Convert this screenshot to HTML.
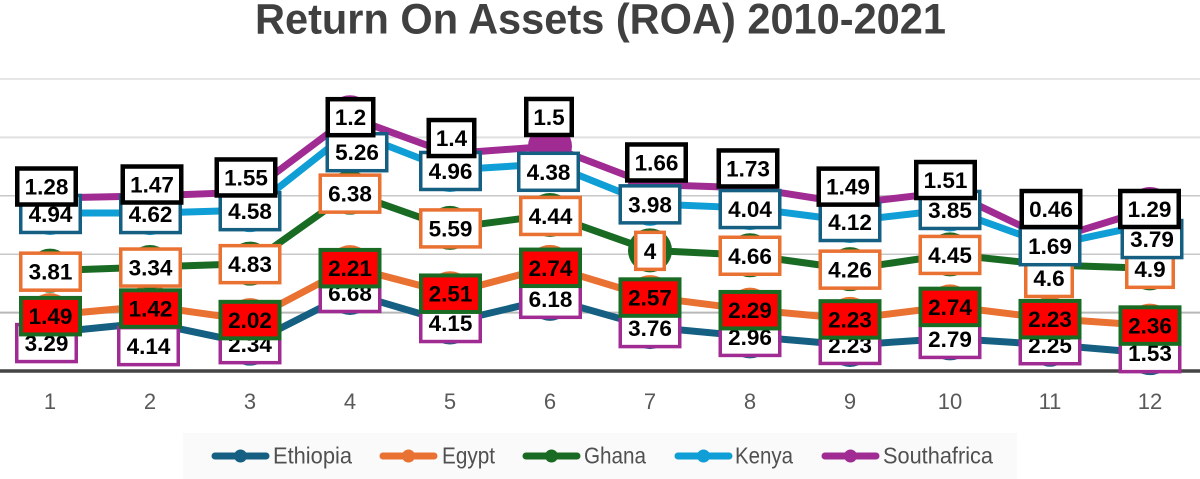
<!DOCTYPE html>
<html lang="en">
<head>
<meta charset="utf-8">
<title>Return On Assets (ROA) 2010-2021</title>
<style>
html,body{margin:0;padding:0;background:#fff;width:1200px;height:479px;overflow:hidden}
svg{display:block;font-family:"Liberation Sans",sans-serif}
</style>
</head>
<body>
<svg id="chart" xmlns="http://www.w3.org/2000/svg" width="1200" height="479" viewBox="0 0 1200 479">
  <text x="255" y="33.500" font-size="43" font-weight="700" fill="#404040" textLength="691" lengthAdjust="spacingAndGlyphs">Return On Assets (ROA) 2010-2021</text>
  <g id="grid"></g>
  <g id="xaxis"></g>
  <g id="series"></g>
  <g id="labels"></g>
  <g>
    <rect x="183" y="433" width="834" height="46" fill="#fafafa"/>
    <g>
      <line x1="215" x2="266" y1="456" y2="456" stroke="#156082" stroke-width="7" stroke-linecap="round"/><circle cx="240.500" cy="456" r="6.500" fill="#156082"/>
      <text x="273" y="463.500" font-size="23" fill="#505050" textLength="79" lengthAdjust="spacingAndGlyphs">Ethiopia</text>
    </g>
    <g>
      <line x1="383" x2="434" y1="456" y2="456" stroke="#E97132" stroke-width="7" stroke-linecap="round"/><circle cx="408.500" cy="456" r="6.500" fill="#E97132"/>
      <text x="442" y="463.500" font-size="23" fill="#505050" textLength="53" lengthAdjust="spacingAndGlyphs">Egypt</text>
    </g>
    <g>
      <line x1="526" x2="577" y1="456" y2="456" stroke="#196B24" stroke-width="7" stroke-linecap="round"/><circle cx="551.500" cy="456" r="6.500" fill="#196B24"/>
      <text x="584" y="463.500" font-size="23" fill="#505050" textLength="62" lengthAdjust="spacingAndGlyphs">Ghana</text>
    </g>
    <g>
      <line x1="678" x2="729" y1="456" y2="456" stroke="#0F9ED5" stroke-width="7" stroke-linecap="round"/><circle cx="703.500" cy="456" r="6.500" fill="#0F9ED5"/>
      <text x="735" y="463.500" font-size="23" fill="#505050" textLength="58" lengthAdjust="spacingAndGlyphs">Kenya</text>
    </g>
    <g>
      <line x1="825" x2="876" y1="456" y2="456" stroke="#A02B93" stroke-width="7" stroke-linecap="round"/><circle cx="850.500" cy="456" r="6.500" fill="#A02B93"/>
      <text x="883" y="463.500" font-size="23" fill="#505050" textLength="110" lengthAdjust="spacingAndGlyphs">Southafrica</text>
    </g>
  </g>
</svg>
<script>
// ---- chart data ----
const categories = ['1','2','3','4','5','6','7','8','9','10','11','12'];
const ethiopia = [3.29,4.14,2.34,6.68,4.15,6.18,3.76,2.96,2.23,2.79,2.25,1.53];
const egypt = [1.49,1.42,2.02,2.21,2.51,2.74,2.57,2.29,2.23,2.74,2.23,2.36];
const ghana = [3.81,3.34,4.83,6.38,5.59,4.44,4,4.66,4.26,4.45,4.6,4.9];
const kenya = [4.94,4.62,4.58,5.26,4.96,4.38,3.98,4.04,4.12,3.85,1.69,3.79];
const southafrica = [1.28,1.47,1.55,1.2,1.4,1.5,1.66,1.73,1.49,1.51,0.46,1.29];
const gridTicks = [5,10,15,20,25];

// ---- layout and styling (not data) ----
const seriesStyles = [
  {key:'ethiopia', values:ethiopia, line:'#156082', fill:'#fff', border:'#A02B93', bw:3.5},
  {key:'egypt', values:egypt, line:'#E97132', fill:'#f00', border:'#196B24', bw:4},
  {key:'ghana', values:ghana, line:'#196B24', fill:'#fff', border:'#E97132', bw:3.5},
  {key:'kenya', values:kenya, line:'#0F9ED5', fill:'#fff', border:'#156082', bw:3.5},
  {key:'southafrica', values:southafrica, line:'#A02B93', fill:'#fff', border:'#000', bw:4.5}
];
// manual label nudges relative to each point, as in the source chart
const labelNudgeX = {
  ethiopia:[-3.5,-1.5,0,0,0.5,0.5,0,0,0,0,0,0],
  egypt:[0.5,0.5,0,0,0.5,0.5,0,0,0,0,0,0],
  ghana:[0.5,0.5,0,0,0.5,0.5,0,0,0,0,-1,0],
  kenya:[0.5,0.5,0,7,0.5,-1.5,0,0,0,0,0,2],
  southafrica:[-3.5,2,-4,0.5,1.5,-1,6.5,-2,-2,-4.5,1,-0.5]
};
const labelNudgeY = {
  ethiopia:[10.5,23.5,0.5,0,0.5,0,1,0.5,0,0.5,0.5,0],
  egypt:[1,2.5,0,1,0.5,1,0.5,0.5,0.5,0.5,0.5,0],
  ghana:[1,0.5,0.5,1,0.5,1,0.5,0.5,0.5,0.5,13,0.5],
  kenya:[1,1,1,21,1,8,0.5,1,1,0.5,1,15],
  southafrica:[-11.5,-11.4,-14.6,0,-15.6,-29.3,-22,-19.4,-17,-11.8,-30.8,0]
};

const NS = 'http://www.w3.org/2000/svg';
function make(tag, attrs, parent, text){
  const el = document.createElementNS(NS, tag);
  for (const k in attrs) el.setAttribute(k, attrs[k]);
  if (text !== undefined) el.textContent = text;
  parent.appendChild(el);
  return el;
}
// axis functions
const xScale = i => 50 + i * 100;
const yScale = v => 371 - v * 58.4 / 5;

// gridlines
const gridStyle = {5:['#b8b8b8',2],10:['#c8c8c8',1.5],15:['#c8c8c8',1.5],20:['#e0e0e0',2],25:['#e6e6e6',2]};
const gridG = document.getElementById('grid');
gridTicks.forEach(t => {
  const gl = make('line',{x1:0,x2:1200,y1:yScale(t),y2:yScale(t),stroke:gridStyle[t][0],'stroke-width':gridStyle[t][1]},gridG);
  
  
});

// x axis
const xG = document.getElementById('xaxis');
const axisLine = make('line',{x1:0,x2:1200,y1:371,y2:371,stroke:'#444','stroke-width':3.5},xG);


categories.forEach((c,i) => {
  const t = make('text',{x:xScale(i),y:409,'text-anchor':'middle','font-size':22,fill:'#595959'},xG,c);
  
  
});

// stacked series
const sG = document.getElementById('series');
const lG = document.getElementById('labels');
const cumulative = categories.map(() => 0);
const stacked = seriesStyles.map(s => s.values.map((v,i) => (cumulative[i] += v)));

seriesStyles.forEach((s,si) => {
  const pts = stacked[si].map((v,i) => xScale(i) + ',' + yScale(v)).join(' ');
  const pl = make('polyline',{points:pts,fill:'none',stroke:s.line,'stroke-width':7,'stroke-linejoin':'round','stroke-linecap':'round'},sG);
  
  
  stacked[si].forEach((v,i) => {
    const m = make('circle',{cx:xScale(i),cy:yScale(v),r:22,fill:s.line},sG);
    
    
  });
});

// leader line on the small value in column 11
const leader = make('line',{x1:1051,x2:1049,y1:229,y2:241,stroke:'#888','stroke-width':1},lG);



seriesStyles.forEach((s,si) => {
  s.values.forEach((v,i) => {
    const str = String(v);
    const w = str.length >= 4 ? 63 : (str.length === 3 ? 50 : 32);
    const h = 40.5;
    const cx = xScale(i) + labelNudgeX[s.key][i];
    const cy = yScale(stacked[si][i]) + labelNudgeY[s.key][i];
    const box = make('rect',{x:cx-w/2+s.bw/2,y:cy-h/2+s.bw/2,width:w-s.bw,height:h-s.bw,fill:s.fill,stroke:s.border,'stroke-width':s.bw},lG);
    
    
    const t = make('text',{x:cx,y:cy+8,'text-anchor':'middle','font-size':22.5,'font-weight':700,fill:'#000'},lG,str);
    
    
  });
});
</script>
</body>
</html>
